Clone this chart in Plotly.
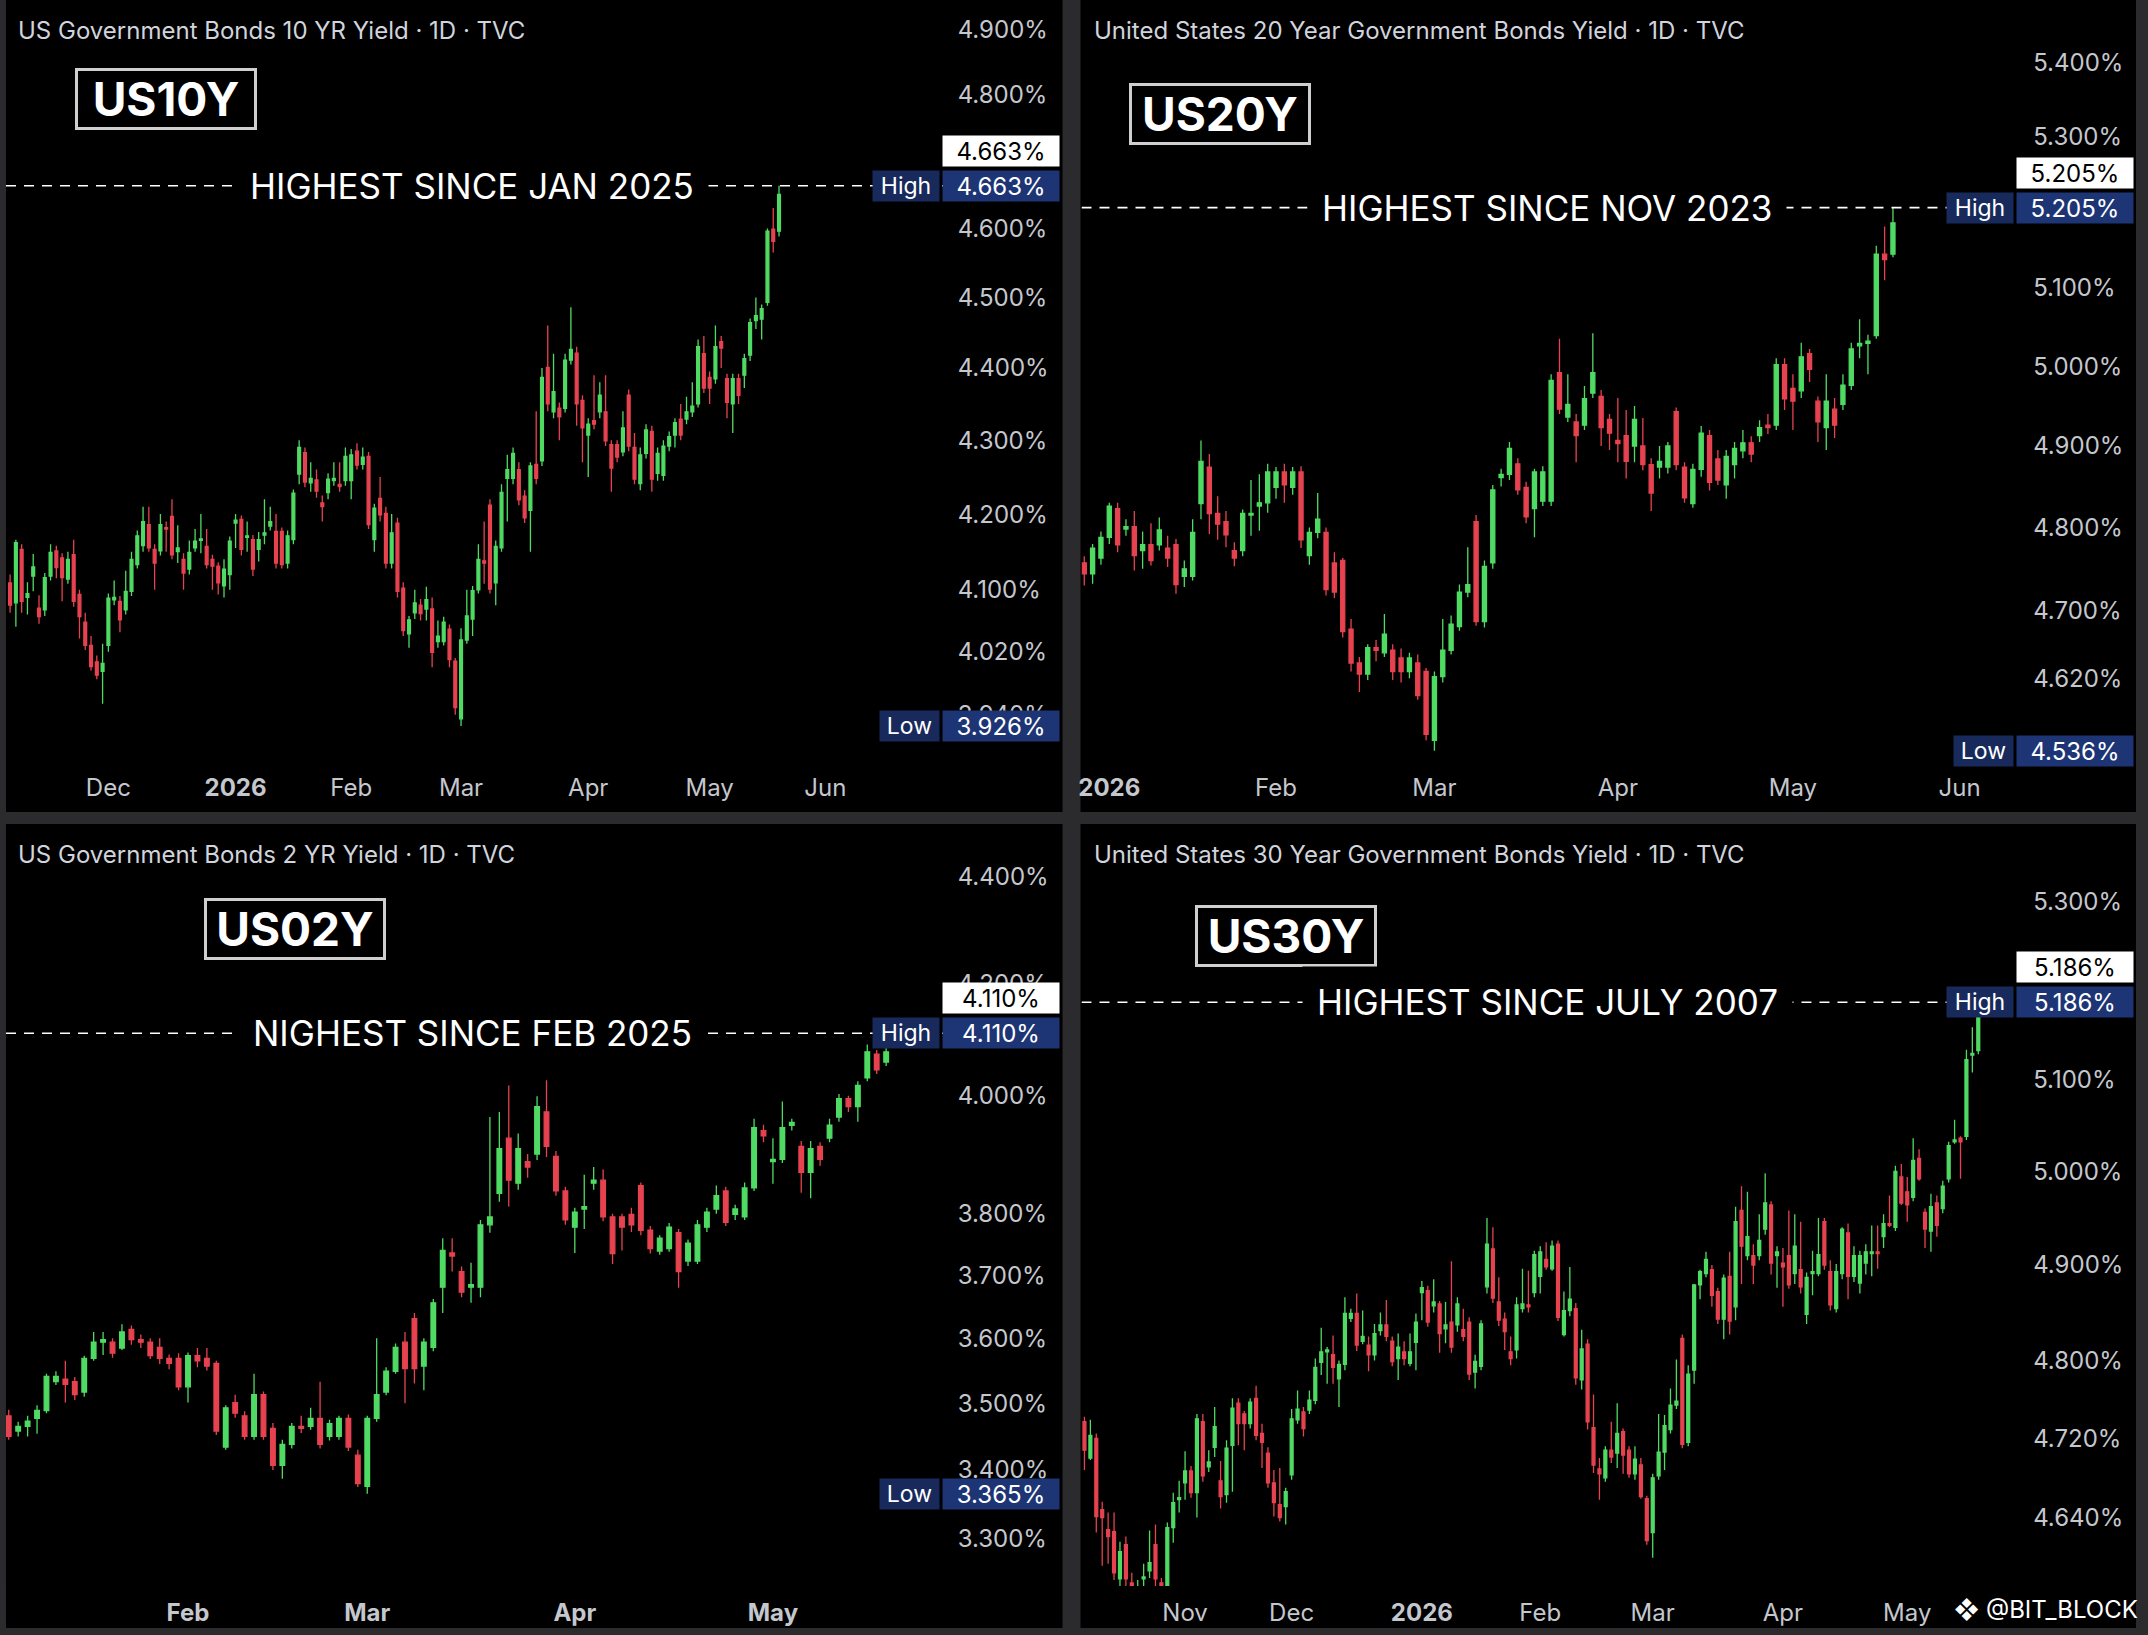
import numpy as np
import pandas as pd
import plotly.graph_objects as go

W, H = 2148, 1635

# sessions the bond market was closed (skipped on the time axis)
holidays = ["2025-10-13", "2025-11-11", "2025-11-27", "2025-12-25", "2026-01-01",
            "2026-01-19", "2026-02-16", "2026-04-03", "2026-05-25"]
last_session = "2026-05-19"

# ---- US10Y daily candles (yield %) ----
open_10y = [
    4.109, 4.083, 4.153, 4.090, 4.118, 4.076, 4.074, 4.118, 4.151, 4.142,
    4.114, 4.146, 4.094, 4.058, 4.028, 4.007, 3.995, 4.028, 4.087, 4.085,
    4.074, 4.098, 4.133, 4.158, 4.186, 4.153, 4.151, 4.182, 4.197, 4.150,
    4.140, 4.127, 4.155, 4.165, 4.157, 4.140, 4.131, 4.105, 4.120, 4.188,
    4.193, 4.169, 4.166, 4.153, 4.172, 4.184, 4.177, 4.177, 4.135, 4.166,
    4.254, 4.283, 4.242, 4.246, 4.215, 4.229, 4.245, 4.240, 4.245, 4.245,
    4.285, 4.267, 4.278, 4.166, 4.221, 4.201, 4.135, 4.188, 4.102, 4.043,
    4.070, 4.080, 4.075, 4.075, 4.033, 4.033, 4.049, 4.008, 3.935, 4.035,
    4.062, 4.100, 4.138, 4.212, 4.109, 4.155, 4.248, 4.248, 4.260, 4.224,
    4.205, 4.267, 4.272, 4.401, 4.339, 4.344, 4.344, 4.411, 4.421, 4.355,
    4.307, 4.327, 4.339, 4.339, 4.294, 4.294, 4.284, 4.362, 4.290, 4.241,
    4.282, 4.312, 4.255, 4.252, 4.292, 4.307, 4.329, 4.329, 4.339, 4.350,
    4.420, 4.387, 4.385, 4.437, 4.385, 4.350, 4.385, 4.390, 4.418, 4.467,
    4.469, 4.493, 4.599, 4.596]
high_10y = [
    4.120, 4.166, 4.160, 4.110, 4.147, 4.093, 4.122, 4.160, 4.158, 4.148,
    4.150, 4.166, 4.100, 4.070, 4.040, 4.015, 4.030, 4.095, 4.112, 4.092,
    4.125, 4.150, 4.178, 4.210, 4.210, 4.160, 4.200, 4.190, 4.220, 4.185,
    4.148, 4.165, 4.180, 4.200, 4.180, 4.146, 4.136, 4.140, 4.170, 4.200,
    4.198, 4.190, 4.172, 4.176, 4.220, 4.210, 4.200, 4.182, 4.178, 4.233,
    4.300, 4.290, 4.270, 4.260, 4.225, 4.255, 4.270, 4.270, 4.290, 4.288,
    4.296, 4.290, 4.284, 4.214, 4.250, 4.210, 4.200, 4.195, 4.110, 4.066,
    4.100, 4.088, 4.104, 4.090, 4.060, 4.065, 4.055, 4.012, 4.050, 4.100,
    4.105, 4.160, 4.190, 4.220, 4.165, 4.240, 4.280, 4.290, 4.270, 4.232,
    4.270, 4.340, 4.400, 4.460, 4.420, 4.352, 4.420, 4.486, 4.430, 4.362,
    4.330, 4.390, 4.380, 4.390, 4.300, 4.300, 4.340, 4.370, 4.310, 4.290,
    4.322, 4.320, 4.290, 4.300, 4.312, 4.330, 4.350, 4.360, 4.380, 4.440,
    4.445, 4.395, 4.460, 4.445, 4.392, 4.392, 4.392, 4.420, 4.470, 4.500,
    4.490, 4.600, 4.630, 4.663]
low_10y = [
    4.070, 4.052, 4.070, 4.068, 4.098, 4.056, 4.066, 4.112, 4.115, 4.085,
    4.108, 4.078, 4.037, 4.022, 3.996, 3.985, 3.954, 4.020, 4.080, 4.045,
    4.068, 4.092, 4.128, 4.150, 4.150, 4.100, 4.145, 4.150, 4.140, 4.135,
    4.100, 4.120, 4.150, 4.148, 4.128, 4.100, 4.094, 4.090, 4.100, 4.155,
    4.145, 4.150, 4.118, 4.137, 4.160, 4.178, 4.128, 4.128, 4.128, 4.160,
    4.240, 4.236, 4.230, 4.222, 4.190, 4.220, 4.238, 4.230, 4.238, 4.220,
    4.260, 4.260, 4.180, 4.150, 4.190, 4.128, 4.128, 4.090, 4.040, 4.025,
    4.062, 4.060, 4.060, 4.000, 4.025, 4.028, 4.000, 3.940, 3.926, 4.030,
    4.040, 4.095, 4.108, 4.095, 4.080, 4.150, 4.190, 4.240, 4.212, 4.188,
    4.150, 4.240, 4.265, 4.340, 4.330, 4.300, 4.338, 4.405, 4.320, 4.270,
    4.250, 4.315, 4.330, 4.292, 4.230, 4.270, 4.278, 4.285, 4.240, 4.232,
    4.275, 4.230, 4.245, 4.245, 4.285, 4.290, 4.300, 4.322, 4.332, 4.345,
    4.365, 4.350, 4.378, 4.400, 4.330, 4.310, 4.350, 4.372, 4.410, 4.455,
    4.440, 4.488, 4.565, 4.588]
close_10y = [
    4.080, 4.162, 4.085, 4.095, 4.130, 4.065, 4.116, 4.149, 4.129, 4.116,
    4.140, 4.085, 4.065, 4.028, 4.001, 3.990, 4.005, 4.089, 4.090, 4.061,
    4.098, 4.140, 4.171, 4.190, 4.155, 4.135, 4.186, 4.180, 4.146, 4.155,
    4.122, 4.149, 4.164, 4.167, 4.133, 4.131, 4.109, 4.127, 4.164, 4.192,
    4.153, 4.171, 4.127, 4.166, 4.175, 4.190, 4.135, 4.133, 4.171, 4.228,
    4.290, 4.243, 4.248, 4.231, 4.210, 4.247, 4.248, 4.237, 4.278, 4.280,
    4.266, 4.277, 4.186, 4.208, 4.199, 4.135, 4.175, 4.098, 4.047, 4.061,
    4.083, 4.069, 4.087, 4.019, 4.040, 4.058, 4.010, 3.949, 4.035, 4.066,
    4.099, 4.140, 4.135, 4.101, 4.157, 4.229, 4.260, 4.282, 4.219, 4.195,
    4.265, 4.248, 4.387, 4.350, 4.367, 4.332, 4.411, 4.426, 4.350, 4.317,
    4.322, 4.322, 4.362, 4.299, 4.262, 4.277, 4.317, 4.292, 4.247, 4.280,
    4.314, 4.247, 4.282, 4.292, 4.305, 4.324, 4.307, 4.339, 4.347, 4.430,
    4.372, 4.372, 4.430, 4.428, 4.352, 4.385, 4.362, 4.413, 4.464, 4.474,
    4.484, 4.596, 4.581, 4.650]

# ---- US20Y ----
open_20y = [
    4.757, 4.744, 4.763, 4.788, 4.823, 4.798, 4.801, 4.772, 4.779, 4.779,
    4.775, 4.779, 4.741, 4.741, 4.829, 4.874, 4.817, 4.807, 4.772, 4.772,
    4.815, 4.826, 4.830, 4.849, 4.868, 4.849, 4.868, 4.766, 4.794, 4.794,
    4.757, 4.760, 4.678, 4.638, 4.625, 4.656, 4.650, 4.653, 4.644, 4.628,
    4.638, 4.628, 4.548, 4.622, 4.653, 4.681, 4.722, 4.807, 4.687, 4.757,
    4.861, 4.865, 4.878, 4.849, 4.823, 4.832, 4.832, 4.992, 4.936, 4.930,
    4.926, 4.966, 4.962, 4.933, 4.907, 4.913, 4.900, 4.900, 4.877, 4.874,
    4.874, 4.943, 4.874, 4.829, 4.871, 4.913, 4.884, 4.852, 4.877, 4.894,
    4.904, 4.913, 4.926, 4.926, 5.002, 4.972, 4.969, 5.016, 4.956, 4.923,
    4.946, 4.952, 4.976, 5.026, 5.029, 5.039, 5.144, 5.144]
high_20y = [
    4.765, 4.780, 4.795, 4.830, 4.830, 4.810, 4.820, 4.795, 4.805, 4.812,
    4.790, 4.786, 4.760, 4.810, 4.907, 4.890, 4.838, 4.820, 4.782, 4.822,
    4.858, 4.865, 4.878, 4.874, 4.878, 4.874, 4.875, 4.800, 4.842, 4.800,
    4.770, 4.763, 4.690, 4.645, 4.660, 4.665, 4.696, 4.660, 4.655, 4.650,
    4.648, 4.632, 4.628, 4.690, 4.694, 4.731, 4.776, 4.815, 4.760, 4.852,
    4.872, 4.905, 4.885, 4.856, 4.872, 4.875, 4.990, 5.035, 4.990, 4.940,
    4.975, 5.042, 4.970, 4.940, 4.960, 4.945, 4.950, 4.935, 4.885, 4.900,
    4.905, 4.948, 4.880, 4.878, 4.925, 4.920, 4.895, 4.895, 4.905, 4.920,
    4.912, 4.932, 4.940, 5.010, 5.010, 4.990, 5.030, 5.022, 4.962, 4.990,
    4.960, 4.990, 5.030, 5.060, 5.040, 5.155, 5.180, 5.205]
low_20y = [
    4.730, 4.732, 4.755, 4.780, 4.770, 4.790, 4.748, 4.750, 4.754, 4.772,
    4.752, 4.720, 4.728, 4.736, 4.810, 4.792, 4.785, 4.776, 4.753, 4.765,
    4.790, 4.796, 4.818, 4.835, 4.830, 4.840, 4.775, 4.755, 4.787, 4.718,
    4.715, 4.668, 4.628, 4.604, 4.618, 4.640, 4.645, 4.618, 4.615, 4.620,
    4.595, 4.548, 4.536, 4.615, 4.648, 4.676, 4.716, 4.682, 4.680, 4.750,
    4.850, 4.858, 4.840, 4.805, 4.788, 4.826, 4.826, 4.940, 4.930, 4.880,
    4.920, 4.960, 4.900, 4.895, 4.880, 4.860, 4.880, 4.870, 4.820, 4.860,
    4.866, 4.870, 4.830, 4.824, 4.862, 4.845, 4.852, 4.835, 4.860, 4.885,
    4.880, 4.905, 4.915, 4.920, 4.945, 4.920, 4.960, 4.980, 4.905, 4.895,
    4.910, 4.945, 4.970, 5.010, 4.990, 5.035, 5.110, 5.140]
close_20y = [
    4.744, 4.775, 4.788, 4.826, 4.779, 4.801, 4.766, 4.779, 4.760, 4.797,
    4.763, 4.731, 4.750, 4.794, 4.881, 4.817, 4.804, 4.791, 4.763, 4.817,
    4.817, 4.830, 4.868, 4.868, 4.852, 4.868, 4.785, 4.794, 4.810, 4.725,
    4.722, 4.675, 4.638, 4.625, 4.656, 4.653, 4.672, 4.628, 4.628, 4.644,
    4.600, 4.555, 4.622, 4.653, 4.684, 4.722, 4.731, 4.687, 4.753, 4.846,
    4.865, 4.897, 4.846, 4.813, 4.868, 4.868, 4.982, 4.946, 4.952, 4.913,
    4.959, 4.992, 4.923, 4.916, 4.903, 4.881, 4.933, 4.877, 4.842, 4.881,
    4.900, 4.877, 4.836, 4.871, 4.916, 4.855, 4.858, 4.887, 4.897, 4.904,
    4.890, 4.923, 4.923, 5.002, 4.959, 4.956, 5.012, 4.996, 4.930, 4.956,
    4.926, 4.976, 5.022, 5.029, 5.032, 5.144, 5.137, 5.185]

# ---- US02Y ----
open_2y = [
    3.481, 3.458, 3.465, 3.477, 3.489, 3.533, 3.537, 3.533, 3.517, 3.569,
    3.594, 3.594, 3.585, 3.614, 3.598, 3.594, 3.586, 3.569, 3.569, 3.525,
    3.573, 3.569, 3.561, 3.434, 3.501, 3.481, 3.450, 3.513, 3.462, 3.407,
    3.438, 3.465, 3.465, 3.477, 3.450, 3.450, 3.477, 3.422, 3.376, 3.477,
    3.517, 3.549, 3.594, 3.631, 3.557, 3.586, 3.681, 3.736, 3.706, 3.681,
    3.681, 3.782, 3.834, 3.927, 3.851, 3.887, 3.900, 3.972, 3.896, 3.838,
    3.778, 3.808, 3.851, 3.856, 3.795, 3.795, 3.799, 3.847, 3.773, 3.739,
    3.743, 3.769, 3.723, 3.723, 3.778, 3.808, 3.838, 3.799, 3.795, 3.843,
    3.940, 3.887, 3.891, 3.949, 3.913, 3.869, 3.913, 3.927, 3.963, 3.995,
    3.981, 4.031, 4.073, 4.059]
high_2y = [
    3.490, 3.472, 3.481, 3.497, 3.545, 3.549, 3.565, 3.540, 3.573, 3.610,
    3.610, 3.600, 3.622, 3.620, 3.606, 3.600, 3.600, 3.575, 3.577, 3.578,
    3.585, 3.585, 3.565, 3.497, 3.513, 3.488, 3.545, 3.518, 3.470, 3.445,
    3.470, 3.481, 3.493, 3.533, 3.475, 3.481, 3.483, 3.430, 3.481, 3.600,
    3.555, 3.592, 3.610, 3.640, 3.600, 3.662, 3.760, 3.760, 3.714, 3.720,
    3.790, 3.963, 3.972, 4.018, 3.935, 3.900, 3.999, 4.027, 3.905, 3.845,
    3.810, 3.865, 3.878, 3.874, 3.800, 3.800, 3.810, 3.852, 3.780, 3.765,
    3.785, 3.775, 3.758, 3.790, 3.810, 3.847, 3.845, 3.815, 3.852, 3.960,
    3.950, 3.927, 3.990, 3.960, 3.922, 3.922, 3.920, 3.960, 4.003, 4.000,
    4.025, 4.090, 4.080, 4.110]
low_2y = [
    3.445, 3.450, 3.450, 3.454, 3.485, 3.528, 3.501, 3.505, 3.510, 3.565,
    3.574, 3.570, 3.582, 3.590, 3.585, 3.568, 3.560, 3.552, 3.520, 3.501,
    3.555, 3.550, 3.452, 3.430, 3.478, 3.445, 3.445, 3.445, 3.400, 3.387,
    3.432, 3.455, 3.460, 3.432, 3.444, 3.445, 3.428, 3.375, 3.365, 3.472,
    3.512, 3.545, 3.500, 3.530, 3.520, 3.580, 3.640, 3.706, 3.665, 3.656,
    3.665, 3.769, 3.820, 3.812, 3.840, 3.860, 3.890, 3.895, 3.830, 3.782,
    3.736, 3.775, 3.840, 3.788, 3.718, 3.740, 3.770, 3.765, 3.735, 3.733,
    3.738, 3.680, 3.715, 3.718, 3.770, 3.800, 3.780, 3.790, 3.790, 3.838,
    3.920, 3.850, 3.885, 3.940, 3.835, 3.826, 3.880, 3.920, 3.955, 3.972,
    3.955, 4.025, 4.038, 4.052]
close_2y = [
    3.450, 3.465, 3.473, 3.489, 3.541, 3.541, 3.529, 3.513, 3.569, 3.594,
    3.598, 3.577, 3.610, 3.598, 3.594, 3.573, 3.569, 3.561, 3.525, 3.573,
    3.565, 3.557, 3.458, 3.493, 3.485, 3.450, 3.513, 3.450, 3.407, 3.438,
    3.465, 3.462, 3.477, 3.438, 3.469, 3.477, 3.434, 3.380, 3.477, 3.513,
    3.549, 3.586, 3.553, 3.553, 3.594, 3.656, 3.740, 3.731, 3.673, 3.685,
    3.782, 3.795, 3.909, 3.856, 3.909, 3.878, 3.981, 3.913, 3.838, 3.790,
    3.803, 3.812, 3.856, 3.795, 3.735, 3.778, 3.782, 3.773, 3.743, 3.760,
    3.778, 3.706, 3.752, 3.782, 3.803, 3.830, 3.786, 3.808, 3.843, 3.945,
    3.931, 3.891, 3.945, 3.954, 3.869, 3.909, 3.891, 3.949, 3.995, 3.981,
    4.018, 4.077, 4.045, 4.077]

# ---- US30Y ----
open_30y = [
    4.737, 4.700, 4.720, 4.648, 4.628, 4.626, 4.579, 4.613, 4.575, 4.555,
    4.579, 4.587, 4.613, 4.575, 4.570, 4.630, 4.658, 4.675, 4.687, 4.665,
    4.737, 4.691, 4.711, 4.677, 4.663, 4.713, 4.756, 4.745, 4.735, 4.761,
    4.725, 4.705, 4.675, 4.653, 4.651, 4.683, 4.739, 4.747, 4.749, 4.759,
    4.798, 4.809, 4.806, 4.781, 4.796, 4.844, 4.849, 4.820, 4.816, 4.806,
    4.831, 4.837, 4.820, 4.802, 4.809, 4.797, 4.819, 4.871, 4.873, 4.857,
    4.859, 4.833, 4.840, 4.837, 4.832, 4.840, 4.788, 4.794, 4.877, 4.917,
    4.861, 4.843, 4.809, 4.811, 4.854, 4.858, 4.871, 4.888, 4.906, 4.896,
    4.922, 4.827, 4.852, 4.854, 4.780, 4.817, 4.731, 4.689, 4.680, 4.708,
    4.705, 4.727, 4.708, 4.684, 4.693, 4.659, 4.625, 4.682, 4.706, 4.729,
    4.754, 4.823, 4.716, 4.790, 4.879, 4.891, 4.895, 4.872, 4.843, 4.888,
    4.856, 4.958, 4.910, 4.910, 4.910, 4.938, 4.964, 4.910, 4.902, 4.910,
    4.891, 4.895, 4.848, 4.891, 4.891, 4.946, 4.893, 4.854, 4.891, 4.934,
    4.888, 4.881, 4.902, 4.912, 4.914, 4.930, 4.944, 4.940, 4.994, 4.978,
    4.972, 5.014, 4.956, 4.936, 4.966, 4.960, 4.992, 5.032, 5.036, 5.038,
    5.127, 5.132]
high_30y = [
    4.742, 4.739, 4.725, 4.656, 4.645, 4.645, 4.616, 4.621, 4.585, 4.578,
    4.594, 4.627, 4.633, 4.580, 4.635, 4.665, 4.677, 4.707, 4.692, 4.745,
    4.745, 4.708, 4.752, 4.697, 4.718, 4.761, 4.761, 4.748, 4.761, 4.774,
    4.735, 4.711, 4.688, 4.690, 4.670, 4.750, 4.769, 4.752, 4.769, 4.802,
    4.834, 4.814, 4.826, 4.800, 4.866, 4.854, 4.870, 4.852, 4.825, 4.838,
    4.850, 4.863, 4.825, 4.828, 4.820, 4.828, 4.849, 4.883, 4.878, 4.885,
    4.862, 4.861, 4.904, 4.866, 4.854, 4.845, 4.806, 4.842, 4.950, 4.940,
    4.887, 4.850, 4.825, 4.866, 4.896, 4.894, 4.915, 4.920, 4.924, 4.926,
    4.926, 4.872, 4.898, 4.860, 4.832, 4.822, 4.765, 4.700, 4.712, 4.737,
    4.756, 4.730, 4.712, 4.712, 4.700, 4.662, 4.684, 4.745, 4.744, 4.771,
    4.801, 4.827, 4.795, 4.880, 4.895, 4.914, 4.900, 4.876, 4.890, 4.914,
    4.962, 4.984, 4.978, 4.922, 4.954, 4.998, 4.968, 4.920, 4.918, 4.958,
    4.954, 4.946, 4.892, 4.915, 4.950, 4.950, 4.905, 4.901, 4.940, 4.944,
    4.920, 4.915, 4.922, 4.942, 4.942, 4.954, 4.974, 5.006, 5.008, 4.994,
    5.036, 5.024, 4.960, 4.976, 4.974, 4.990, 5.032, 5.056, 5.038, 5.133,
    5.158, 5.186]
low_30y = [
    4.688, 4.698, 4.625, 4.592, 4.594, 4.578, 4.570, 4.565, 4.550, 4.545,
    4.565, 4.580, 4.570, 4.548, 4.565, 4.615, 4.645, 4.658, 4.660, 4.640,
    4.676, 4.686, 4.701, 4.649, 4.655, 4.666, 4.713, 4.708, 4.730, 4.718,
    4.690, 4.670, 4.641, 4.636, 4.633, 4.678, 4.735, 4.722, 4.745, 4.755,
    4.785, 4.776, 4.776, 4.752, 4.790, 4.840, 4.810, 4.817, 4.789, 4.800,
    4.826, 4.820, 4.794, 4.780, 4.795, 4.794, 4.790, 4.842, 4.835, 4.850,
    4.808, 4.818, 4.808, 4.830, 4.820, 4.780, 4.771, 4.790, 4.870, 4.860,
    4.836, 4.811, 4.795, 4.802, 4.850, 4.850, 4.866, 4.870, 4.895, 4.894,
    4.841, 4.825, 4.846, 4.775, 4.770, 4.729, 4.685, 4.658, 4.676, 4.695,
    4.690, 4.684, 4.680, 4.678, 4.659, 4.613, 4.600, 4.678, 4.688, 4.725,
    4.750, 4.710, 4.712, 4.776, 4.864, 4.887, 4.856, 4.838, 4.822, 4.827,
    4.842, 4.880, 4.905, 4.880, 4.905, 4.932, 4.890, 4.876, 4.856, 4.875,
    4.880, 4.870, 4.838, 4.868, 4.888, 4.895, 4.852, 4.850, 4.885, 4.864,
    4.882, 4.870, 4.890, 4.888, 4.896, 4.918, 4.940, 4.936, 4.964, 4.946,
    4.968, 4.990, 4.918, 4.914, 4.930, 4.955, 4.988, 5.030, 4.992, 5.034,
    5.108, 5.128]
close_30y = [
    4.708, 4.723, 4.641, 4.640, 4.621, 4.585, 4.606, 4.579, 4.560, 4.570,
    4.581, 4.595, 4.579, 4.558, 4.630, 4.655, 4.660, 4.687, 4.665, 4.740,
    4.682, 4.696, 4.732, 4.661, 4.710, 4.751, 4.735, 4.735, 4.757, 4.723,
    4.716, 4.675, 4.655, 4.640, 4.666, 4.740, 4.750, 4.730, 4.759, 4.793,
    4.809, 4.811, 4.793, 4.796, 4.849, 4.849, 4.816, 4.825, 4.806, 4.828,
    4.837, 4.825, 4.799, 4.814, 4.802, 4.809, 4.840, 4.876, 4.840, 4.861,
    4.828, 4.837, 4.814, 4.859, 4.825, 4.786, 4.799, 4.838, 4.922, 4.865,
    4.842, 4.830, 4.802, 4.858, 4.859, 4.856, 4.911, 4.914, 4.898, 4.920,
    4.845, 4.852, 4.864, 4.782, 4.812, 4.737, 4.693, 4.684, 4.708, 4.701,
    4.725, 4.703, 4.684, 4.699, 4.661, 4.617, 4.680, 4.706, 4.733, 4.754,
    4.758, 4.714, 4.786, 4.879, 4.893, 4.906, 4.868, 4.843, 4.886, 4.841,
    4.946, 4.920, 4.930, 4.900, 4.926, 4.966, 4.902, 4.914, 4.898, 4.879,
    4.920, 4.877, 4.887, 4.893, 4.911, 4.900, 4.858, 4.893, 4.938, 4.888,
    4.910, 4.910, 4.914, 4.914, 4.912, 4.944, 4.942, 5.000, 4.966, 4.964,
    5.012, 4.992, 4.938, 4.962, 4.942, 4.984, 5.028, 5.034, 5.032, 5.122,
    5.129, 5.170]

# price-scale ticks
ticks_10y = [3.94, 4.02, 4.10, 4.20, 4.30, 4.40, 4.50, 4.60, 4.80, 4.90]
ticks_20y = [4.62, 4.70, 4.80, 4.90, 5.00, 5.10, 5.30, 5.40]
ticks_2y = [3.30, 3.40, 3.50, 3.60, 3.70, 3.80, 4.00, 4.20, 4.40]
ticks_30y = [4.64, 4.72, 4.80, 4.90, 5.00, 5.10, 5.30]

# time-scale ticks
months_10y = ["2025-12-01", "2026-01-02", "2026-02-02", "2026-03-02", "2026-04-01", "2026-05-01", "2026-06-01"]
labels_10y = ["Dec", "<b>2026</b>", "Feb", "Mar", "Apr", "May", "Jun"]
months_20y = ["2026-01-02", "2026-02-02", "2026-03-02", "2026-04-01", "2026-05-01", "2026-06-01"]
labels_20y = ["<b>2026</b>", "Feb", "Mar", "Apr", "May", "Jun"]
months_2y = ["2026-02-02", "2026-03-02", "2026-04-01", "2026-05-01"]
labels_2y = ["<b>Feb</b>", "<b>Mar</b>", "<b>Apr</b>", "<b>May</b>"]
months_30y = ["2025-11-03", "2025-12-01", "2026-01-02", "2026-02-02", "2026-03-02", "2026-04-01", "2026-05-01"]
labels_30y = ["Nov", "Dec", "<b>2026</b>", "Feb", "Mar", "Apr", "May"]

GREEN = "#4fdb63"
RED = "#e6424f"
BG = "#2b2b2d"
LABEL = "#c4c7cd"
FONT = "Inter"


def sessions(n):
    days = pd.bdate_range("2025-09-01", last_session)
    days = days[~days.isin(pd.to_datetime(holidays))]
    return days[-n:]


def fx(v):
    return v / W


def fy(v):
    return 1 - v / H


fig = go.Figure()

# black panels over the grey frame
for x0, x1, y0, y1 in [(3, 1061, 0, 812), (1079, 2136, 0, 812),
                       (3, 1061, 824, 1628), (1079, 2136, 824, 1628)]:
    fig.add_shape(type="rect", xref="paper", yref="paper", x0=fx(x0), x1=fx(x1),
                  y0=fy(y1), y1=fy(y0), fillcolor="black", line_width=0, layer="below")


def add_panel(k, o, h, l, c, ticks, months, month_labels, x_range, y_range,
              dom_x, dom_y, title, title_xy, ticker, ticker_xy, note, note_x,
              box_x, show_low, date_standoff):
    sfx = "" if k == 1 else str(k)
    dates = sessions(len(c))
    fig.add_trace(go.Candlestick(
        x=dates, open=o, high=h, low=l, close=c, xaxis="x" + sfx, yaxis="y" + sfx,
        increasing=dict(line=dict(color=GREEN, width=1.3), fillcolor=GREEN),
        decreasing=dict(line=dict(color=RED, width=1.3), fillcolor=RED),
        hoverinfo="skip", showlegend=False))
    hi, lo = max(h), min(l)
    fig.add_trace(go.Scatter(
        x=x_range, y=[hi, hi], mode="lines", xaxis="x" + sfx, yaxis="y" + sfx,
        line=dict(color="white", width=1.6, dash="10px,8px"),
        hoverinfo="skip", showlegend=False))

    fig.update_layout(**{
        "xaxis" + sfx: dict(
            domain=[fx(dom_x[0]), fx(dom_x[1])], anchor="y" + sfx, type="date",
            range=x_range, rangeslider=dict(visible=False),
            rangebreaks=[dict(bounds=["sat", "mon"]), dict(values=holidays)],
            tickvals=months, ticktext=month_labels, ticks="", showgrid=False,
            zeroline=False, showline=False, ticklabelstandoff=date_standoff,
            tickfont=dict(family=FONT, size=24, color=LABEL)),
        "yaxis" + sfx: dict(
            domain=[fy(dom_y[1]), fy(dom_y[0])], anchor="x" + sfx, side="right",
            type="log", range=[np.log10(y_range[0]), np.log10(y_range[1])],
            tickvals=ticks, ticktext=[f"{t:.3f}%" for t in ticks], ticks="",
            showgrid=False, zeroline=False, showline=False, ticklabelstandoff=10,
            tickfont=dict(family=FONT, size=24, color=LABEL)),
    })

    yref = "y" + sfx
    fig.add_annotation(xref="paper", yref="paper", x=fx(title_xy[0]), y=fy(title_xy[1]),
                       text=title, showarrow=False, xanchor="left", yanchor="middle",
                       font=dict(family=FONT, size=24, color="#d1d4dc"))
    fig.add_annotation(xref="paper", yref="paper", x=fx(ticker_xy[0]), y=fy(ticker_xy[1]),
                       xanchor="center", yanchor="middle",
                       text=f"<b>{ticker}</b>", showarrow=False, width=176, height=56,
                       bordercolor="#cfcfcf", borderwidth=3, borderpad=0, bgcolor="black",
                       font=dict(family=FONT, size=46, color="white"))
    fig.add_annotation(xref="paper", yref=yref, x=fx(note_x), y=np.log10(hi),
                       xanchor="center", yanchor="middle",
                       text=note, showarrow=False, bgcolor="black", borderpad=14,
                       font=dict(family=FONT, size=35, color="white"))
    # price-scale labels
    fig.add_annotation(xref="paper", yref=yref, x=fx(box_x - 2), y=np.log10(hi),
                       xanchor="right", yanchor="middle", text="High", showarrow=False,
                       width=66, height=30, borderpad=0, bgcolor="#182a5c",
                       font=dict(family=FONT, size=23, color="white"))
    fig.add_annotation(xref="paper", yref=yref, x=fx(box_x), y=np.log10(hi),
                       xanchor="left", yanchor="middle", text=f"{hi:.3f}%", showarrow=False,
                       width=116, height=30, borderpad=0, bgcolor="#1d3575",
                       font=dict(family=FONT, size=24, color="white"))
    fig.add_annotation(xref="paper", yref=yref, x=fx(box_x), y=np.log10(hi), yshift=35,
                       xanchor="left", yanchor="middle", text=f"{hi:.3f}%", showarrow=False,
                       width=116, height=30, borderpad=0, bgcolor="white",
                       font=dict(family=FONT, size=24, color="black"))
    if show_low:
        fig.add_annotation(xref="paper", yref=yref, x=fx(box_x - 2), y=np.log10(lo),
                           xanchor="right", yanchor="middle", text="Low", showarrow=False,
                           width=59, height=30, borderpad=0, bgcolor="#182a5c",
                           font=dict(family=FONT, size=23, color="white"))
        fig.add_annotation(xref="paper", yref=yref, x=fx(box_x), y=np.log10(lo),
                           xanchor="left", yanchor="middle", text=f"{lo:.3f}%", showarrow=False,
                           width=116, height=30, borderpad=0, bgcolor="#1d3575",
                           font=dict(family=FONT, size=24, color="white"))


add_panel(1, open_10y, high_10y, low_10y, close_10y, ticks_10y, months_10y, labels_10y,
          ["2025-11-03 07:00", "2026-06-30"], (3.880, 4.947), (3, 945), (0, 763),
          "US Government Bonds 10 YR Yield · 1D · TVC", (13, 30), "US10Y", (163, 99),
          "HIGHEST SINCE JAN 2025", 470, 940, True, 8)
add_panel(2, open_20y, high_20y, low_20y, close_20y, ticks_20y, months_20y, labels_20y,
          ["2025-12-26 16:00", "2026-06-10 12:00"], (4.522, 5.486), (1080, 2022), (0, 763),
          "United States 20 Year Government Bonds Yield · 1D · TVC", (1091, 30), "US20Y", (1219, 114),
          "HIGHEST SINCE NOV 2023", 1546, 2016, True, 8)
add_panel(3, open_2y, high_2y, low_2y, close_2y, ticks_2y, months_2y, labels_2y,
          ["2026-01-02 17:00", "2026-05-28 10:00"], (3.233, 4.497), (3, 945), (826, 1586),
          "US Government Bonds 2 YR Yield · 1D · TVC", (13, 854), "US02Y", (292, 929),
          "NIGHEST SINCE FEB 2025", 470, 940, True, 10)
add_panel(4, open_30y, high_30y, low_30y, close_30y, ticks_30y, months_30y, labels_30y,
          ["2025-10-07 12:00", "2026-05-29 10:00"], (4.572, 5.387), (1080, 2022), (826, 1586),
          "United States 30 Year Government Bonds Yield · 1D · TVC", (1091, 854), "US30Y", (1285, 936),
          "HIGHEST SINCE JULY 2007", 1547, 2016, False, 10)

fig.add_annotation(xref="paper", yref="paper", x=fx(2140), y=fy(1609), text="❖ @BIT_BLOCK",
                   xanchor="right", yanchor="middle", showarrow=False,
                   font=dict(family=FONT, size=24, color="white"))

fig.update_layout(width=W, height=H, margin=dict(l=0, r=0, t=0, b=0),
                  paper_bgcolor=BG, plot_bgcolor="black", hovermode=False,
                  showlegend=False)

fig.write_html("out.html", config={"displayModeBar": False},
               post_script="document.body.style.margin='0';")
